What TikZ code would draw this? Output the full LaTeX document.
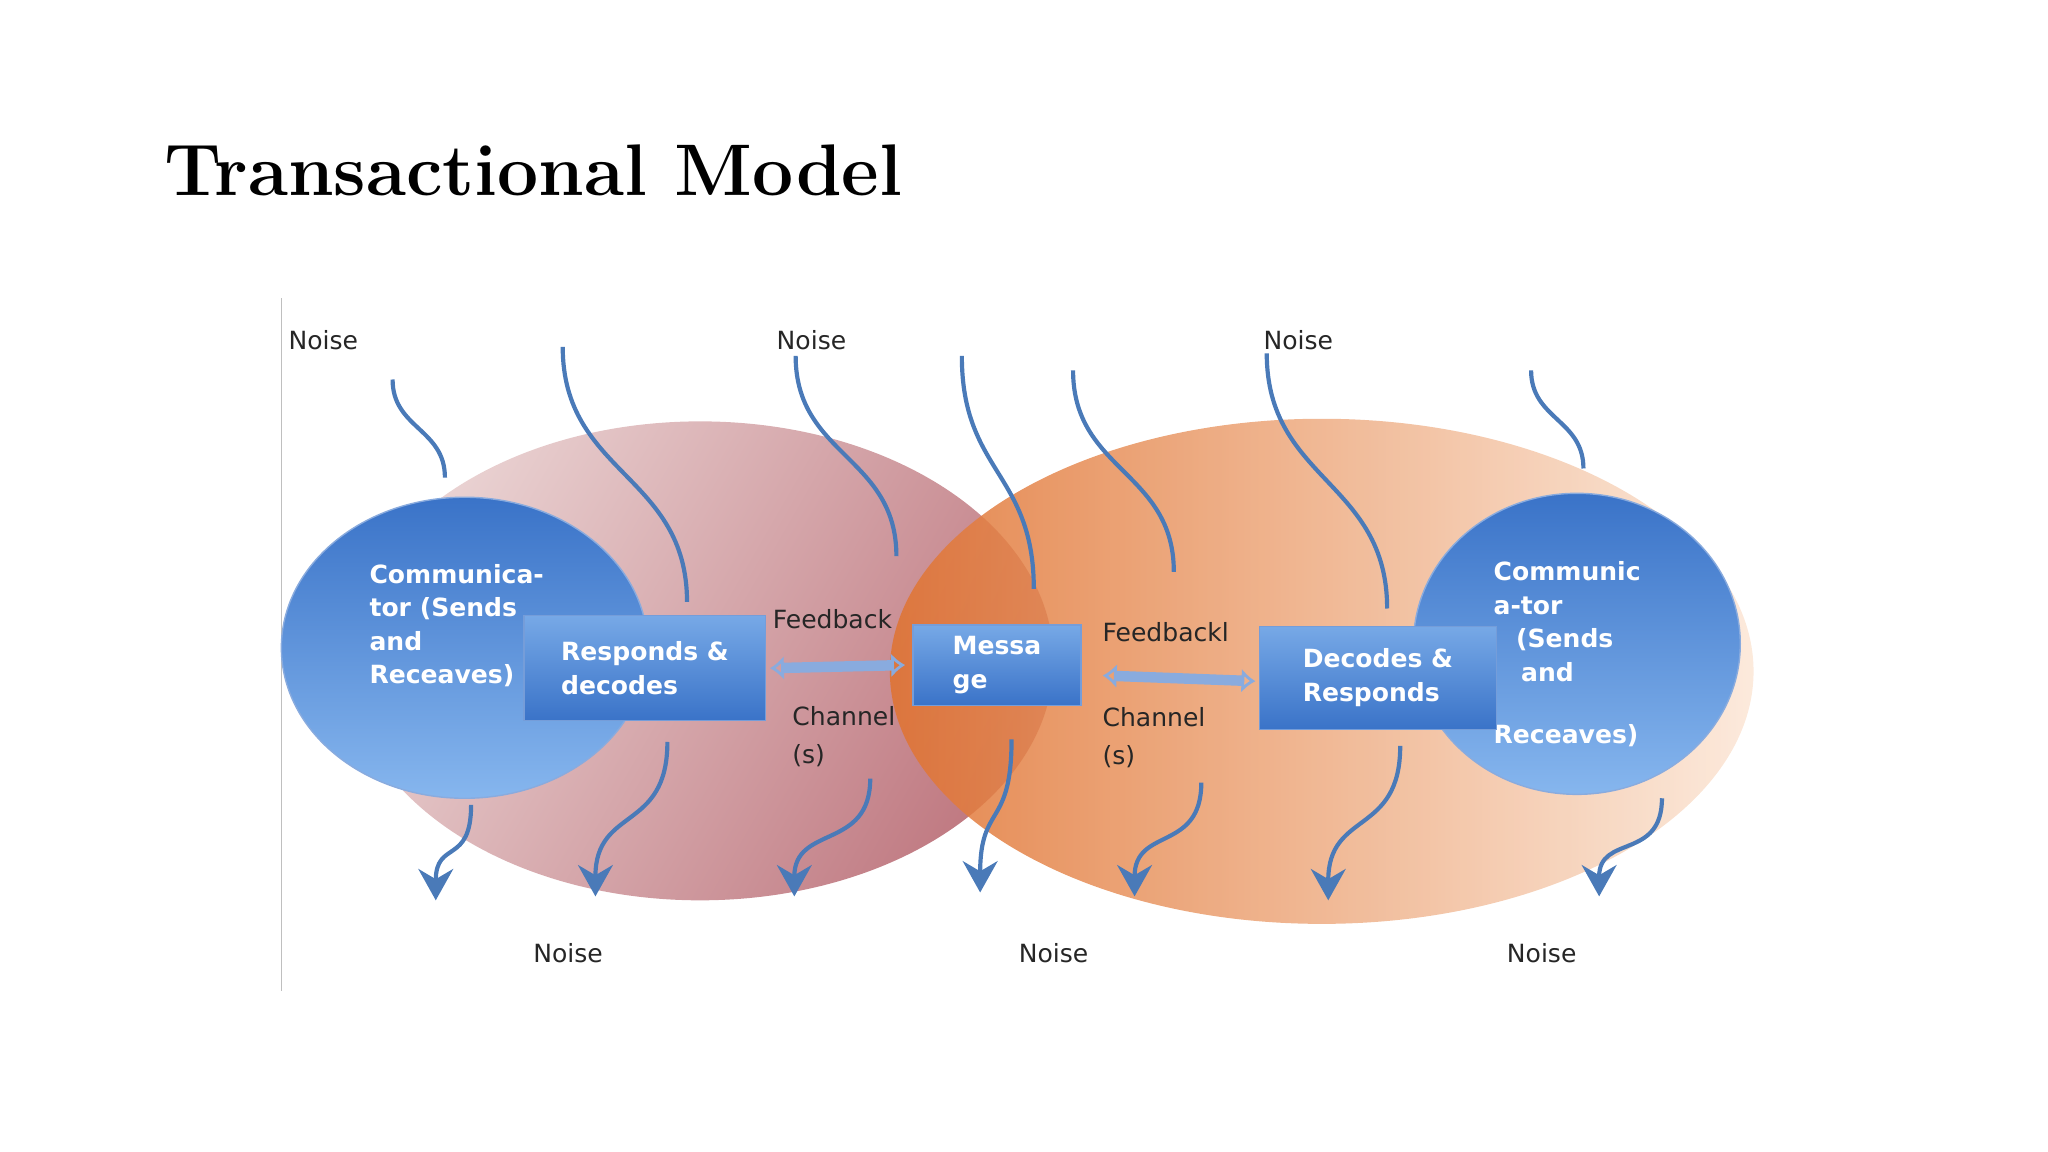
\documentclass[tikz,border=0pt]{standalone}
\usepackage{fontspec}
\setsansfont{DejaVu Sans}
\usetikzlibrary{arrows.meta,shapes.geometric}
\definecolor{wavecol}{HTML}{4A7AB8}
\definecolor{roseA}{HTML}{EAD3D3}
\definecolor{roseB}{HTML}{C07A82}
\definecolor{orangeA}{HTML}{E0722F}
\definecolor{orangeB}{HTML}{FBE6D6}
\definecolor{blueA}{HTML}{3A73C8}
\definecolor{blueB}{HTML}{86B6EE}
\tikzset{
  wave/.style={wavecol, line width=1.2pt},
  lbl/.style={font=\sffamily\fontsize{7.2}{9}\selectfont, text=black!85, inner sep=0pt, anchor=west},
  boxtxt/.style={font=\sffamily\bfseries\fontsize{7.2}{9.6}\selectfont, text=white, align=left},
  box/.style={draw=blueA!70!white, top color=blueB!80!blueA, bottom color=blueA, minimum height=#1, boxtxt},
  comm/.style={ellipse, minimum height=3.04cm, draw=blueA!60, top color=blueA, bottom color=blueB, inner sep=0pt},
  fb/.style={{Latex[open,length=4pt,width=7pt]}-{Latex[open,length=4pt,width=7pt]}, draw=blueA!60, line width=3pt},
}
\begin{document}
\begin{tikzpicture}[x=0.01321cm, y=-0.01321cm]
  \useasboundingbox (0,0) rectangle (1565,880);

  % title
  \node[anchor=west, font=\rmfamily\bfseries\fontsize{21}{24}\selectfont] (title) at (116,130) {Transactional Model};
  \draw[black!25, line width=0.4pt] (215,228) -- (215,757);

  % ellipses
  \shade[left color=roseA, right color=roseB, shading angle=60] (535,505) ellipse [x radius=270, y radius=183];
  \shade[left color=orangeA, right color=orangeB, fill opacity=0.85] (1010,513) ellipse [x radius=330, y radius=193];

  % communicators
  \node[comm, minimum width=3.70cm] (comL) at (355,495) {};
  \node[comm, minimum width=3.30cm] (comR) at (1205,492) {};
  \node[boxtxt, anchor=north west] (comLtxt) at (273,422) {Communica-\\tor (Sends\\and\\Receaves)};
  \node[boxtxt, anchor=north west] (comRtxt) at (1132,420) {Communic\\a-tor\\\hspace{0.9em}(Sends\\\hspace{1.1em}and\\[1.15em]Receaves)};

  % boxes
  \node[box=1.06cm, minimum width=2.44cm, anchor=north west] (resp) at (400,470) {Responds \&\\decodes};
  \node[box=0.71cm, minimum width=1.70cm, anchor=north west] (msg) at (697,477) {Messa\\ge};
  \node[box=1.04cm, minimum width=2.39cm, anchor=north west] (dec) at (962,478) {Decodes \&\\Responds};

  % feedback arrows
  \draw[fb] ([xshift=1pt]resp.east) -- ([xshift=-2pt]msg.west);
  \draw[fb] ([xshift=6pt, yshift=-3pt]msg.east) -- ([xshift=-1pt, yshift=-1pt]dec.west);
  \node[lbl] (fbL) at (590,473) {Feedback};
  \node[lbl, align=left, anchor=north west] (chL) at (605,539) {Channel\\[2pt](s)};
  \node[lbl] (fbR) at (842,483) {Feedbackl};
  \node[lbl, align=left, anchor=north west] (chR) at (842,540) {Channel\\[2pt](s)};

  % noise labels
  \foreach \nx/\ny [count=\i] in {220/260, 593/260, 965/260, 407/728, 778/728, 1151/728}
    \node[lbl] (noise\i) at (\nx,\ny) {Noise};

  % noise waves
  \foreach \ax/\ay/\bx/\by in {300/290/340/365, 430/265/525/460, 608/272/685/425,
      735/272/790/450, 820/283/897/437, 968/270/1060/465, 1170/283/1210/358}
    \draw[wave] (\ax,\ay) .. controls (\ax,{(\ay+\by)/2}) and (\bx,{(\ay+\by)/2}) .. (\bx,\by);
  \foreach \ax/\ay/\bx/\by in {360/615/333/688, 510/567/455/685, 665/595/607/685,
      773/565/749/682, 918/598/867/685, 1070/570/1015/688, 1270/610/1222/685}
    \draw[wave, -{Stealth[length=9pt, width=10pt]}] (\ax,\ay) .. controls (\ax,{(\ay+\by)/2+10}) and (\bx,{(\ay+\by)/2-10}) .. (\bx,\by);
\end{tikzpicture}
\end{document}
